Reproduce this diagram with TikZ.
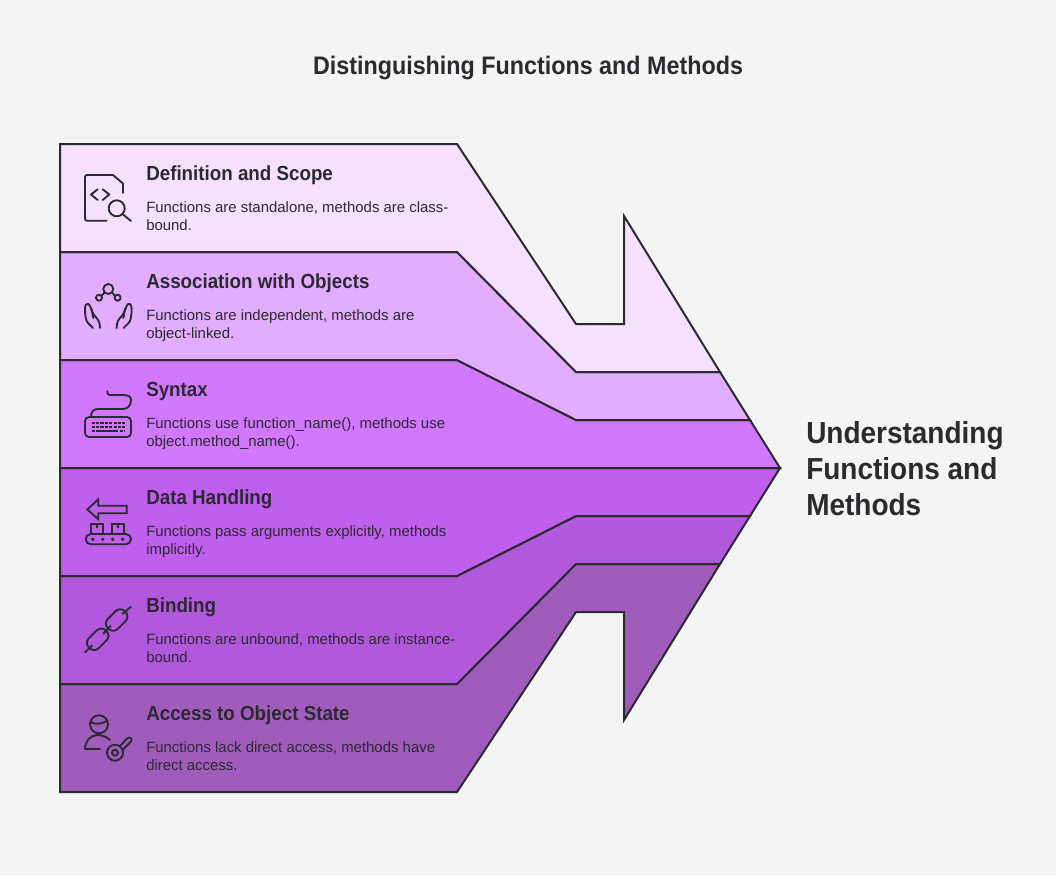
\documentclass[tikz,border=0pt]{standalone}
\usepackage{fontspec}
\setmainfont{Liberation Sans}
\newfontfamily\hdf[FakeStretch=0.92,UprightFont=* Bold]{Liberation Sans}
\definecolor{bgc}{HTML}{F4F4F4}
\definecolor{ink}{HTML}{2B2A2E}
\definecolor{bandA}{HTML}{F5E0FF}
\definecolor{bandB}{HTML}{E3ADFF}
\definecolor{bandC}{HTML}{D178FF}
\definecolor{bandD}{HTML}{BF5FEE}
\definecolor{bandE}{HTML}{B158DD}
\definecolor{bandF}{HTML}{A05CBD}
\newcommand{\fs}[2]{\fontsize{#1}{#2}\selectfont}
\tikzset{
  x=0.75pt,y=-0.75pt,
  band/.style={draw=ink,line width=1.5pt,line join=miter,miter limit=10},
  ico/.style={draw=ink,line width=1.4pt,line cap=round,line join=round},
  head/.style={anchor=base west,inner sep=0pt,text=ink,font=\hdf\fs{15.3}{18}},
  body/.style={anchor=base west,inner sep=0pt,text=ink,font=\fs{11.2}{13.5},align=left},
  side/.style={anchor=base west,inner sep=0pt,text=ink,font=\hdf\fs{22.8}{27}},
}
\begin{document}
\begin{tikzpicture}
\useasboundingbox (0,0) rectangle (1056,876);
\fill[bgc] (0,0) rectangle (1056,876);
\path[band,fill=bandF] (60,684)--(457,684)--(576,564)--(720,564)--(624,720)--(624,612)--(576,612)--(457,792)--(60,792)--cycle;
\path[band,fill=bandE] (60,576)--(457,576)--(576,516)--(750,516)--(720,564)--(576,564)--(457,684)--(60,684)--cycle;
\path[band,fill=bandD] (60,468)--(780,468)--(750,516)--(576,516)--(457,576)--(60,576)--cycle;
\path[band,fill=bandC] (60,360)--(457,360)--(576,420)--(750,420)--(780,468)--(60,468)--cycle;
\path[band,fill=bandB] (60,252)--(457,252)--(576,372)--(720,372)--(750,420)--(576,420)--(457,360)--(60,360)--cycle;
\path[band,fill=bandA] (60,144)--(457,144)--(576,324)--(624,324)--(624,216)--(720,372)--(576,372)--(457,252)--(60,252)--cycle;

\node[anchor=base,inner sep=0pt,text=ink,font=\hdf\fs{19}{22}] (title) at (528,74) {Distinguishing Functions and Methods};
\node[side] (r1) at (806,443) {Understanding};
\node[side] (r2) at (806,479) {Functions and};
\node[side] (r3) at (806,515) {Methods};

\node[head] (h1) at (146,180.7) {Definition and Scope};
\node[body] (a1) at (146,212) {Functions are standalone, methods are class-};
\node[body] (b1) at (146,230) {bound.};
\node[head] (h2) at (146,288.7) {Association with Objects};
\node[body] (a2) at (146,320) {Functions are independent, methods are};
\node[body] (b2) at (146,338) {object-linked.};
\node[head] (h3) at (146,396.7) {Syntax};
\node[body] (a3) at (146,428) {Functions use function\_name(), methods use};
\node[body] (b3) at (146,446) {object.method\_name().};
\node[head] (h4) at (146,504.7) {Data Handling};
\node[body] (a4) at (146,536) {Functions pass arguments explicitly, methods};
\node[body] (b4) at (146,554) {implicitly.};
\node[head] (h5) at (146,612.7) {Binding};
\node[body] (a5) at (146,644) {Functions are unbound, methods are instance-};
\node[body] (b5) at (146,662) {bound.};
\node[head] (h6) at (146,720.7) {Access to Object State};
\node[body] (a6) at (146,752) {Functions lack direct access, methods have};
\node[body] (b6) at (146,770) {direct access.};

% icon 1
\draw[ico] (106.7,220.7)--(87,220.7) arc[start angle=90,end angle=180,radius=2]--(85,177) arc[start angle=180,end angle=270,radius=2]--(113,175)--(123,183.5)--(123,193);
\draw[ico] (97.7,189.3)--(91,194.5)--(97.7,200);
\draw[ico] (102.7,189.3)--(109.3,194.5)--(102.7,200);
\draw[ico] (116.7,208.3) circle[radius=8];
\draw[ico] (122.5,214)--(131,221);
% icon 2
\draw[ico] (108.3,289) circle[radius=5];
\draw[ico] (99,297.7) circle[radius=3];
\draw[ico] (117.6,297.7) circle[radius=3];
\draw[ico] (101.5,296)--(104.5,292.5);
\draw[ico] (115.1,296)--(112.1,292.5);
\draw[ico] (100,328) .. controls (100,322) and (98,319) .. (94,315) .. controls (91,311) and (91,306) .. (88.5,304) .. controls (86,303) and (85,306) .. (85,309) .. controls (85,316) and (86,321) .. (88,323) -- (93,328);
\draw[ico] (91,308) .. controls (93,311) and (92,316) .. (93.5,318);
\draw[ico] (116.6,328) .. controls (116.6,322) and (118.6,319) .. (122.6,315) .. controls (125.6,311) and (125.6,306) .. (128.1,304) .. controls (130.6,303) and (131.6,306) .. (131.6,309) .. controls (131.6,316) and (130.6,321) .. (128.6,323) -- (123.6,328);
\draw[ico] (125.6,308) .. controls (123.6,311) and (124.6,316) .. (123.1,318);
% icon 3
\draw[ico,rounded corners=3pt] (85,417)rectangle(131,437);
\draw[ico] (107.5,391) -- (107.5,393) .. controls (107.5,395) and (109,395) .. (112,395) -- (123,395) .. controls (129,395) and (131,397) .. (131,400) .. controls (131,405) and (128,409) .. (123,409) -- (98,409) .. controls (93,409) and (91,412) .. (91,417);
\foreach \yy in {422.7,426.7}{\draw[ink,line width=1.4pt,dash pattern=on 2.4pt off 0.9pt] (91.5,\yy)--(125,\yy);}
\draw[ink,line width=1.4pt,dash pattern=on 2.4pt off 0.9pt] (91.5,430.7)--(96,430.7);
\draw[ink,line width=1.4pt] (97,430.7)--(118,430.7);
\draw[ink,line width=1.4pt,dash pattern=on 2.4pt off 0.9pt] (120,430.7)--(125,430.7);
% icon 4
\draw[ico,line join=miter] (126.7,505.7)--(98.3,505.7)--(98.3,499.3)--(87.3,509.5)--(98.3,519.3)--(98.3,513.3)--(126.7,513.3)--cycle;
\draw[ico,line join=miter] (91,534)--(91,524)--(103.3,524)--(103.3,534);
\draw[ico,line join=miter] (111.7,534)--(111.7,524)--(124,524)--(124,534);
\draw[ico] (97.2,524)--(97.2,527.5);
\draw[ico] (117.9,524)--(117.9,527.5);
\draw[ico,rounded corners=3.8pt] (85.7,534)rectangle(131,544.3);
\foreach \xx in {92.7,102.7,112.7,122.7}{\fill[ink] (\xx,539.3) circle[radius=1.8];}
% icon 5
\draw[ico] (85,652.3)--(92,645.5);
\draw[ico] (103.5,633.5)--(110.5,626);
\draw[ico] (122.5,614)--(131,606.7);
\draw[ico,rounded corners=4.8pt,rotate around={45:(97.7,639.3)}] (85.7,632.3) rectangle (109.7,646.3);
\draw[ico,rounded corners=4.8pt,rotate around={45:(116.7,620)}] (104.7,613) rectangle (128.7,627);
% icon 6
\draw[ico] (99,724.3) circle[radius=9];
\draw[ico] (90.5,722) .. controls (95,725) and (102,724) .. (107.5,720.5);
\draw[ico] (100,749)--(85,749) .. controls (85,741) and (91,735) .. (97,735) .. controls (102,735) and (106,736.5) .. (110,740);
\draw[ico] (115,752.7) circle[radius=8];
\draw[ico] (115,752.7) circle[radius=3];
\draw[ico] (120,746)--(127,738.5) .. controls (128.5,737) and (130.5,737) .. (131.3,738.5) .. controls (132,740) and (131.5,741) .. (130.5,742) -- (122.5,750);
\end{tikzpicture}
\end{document}
